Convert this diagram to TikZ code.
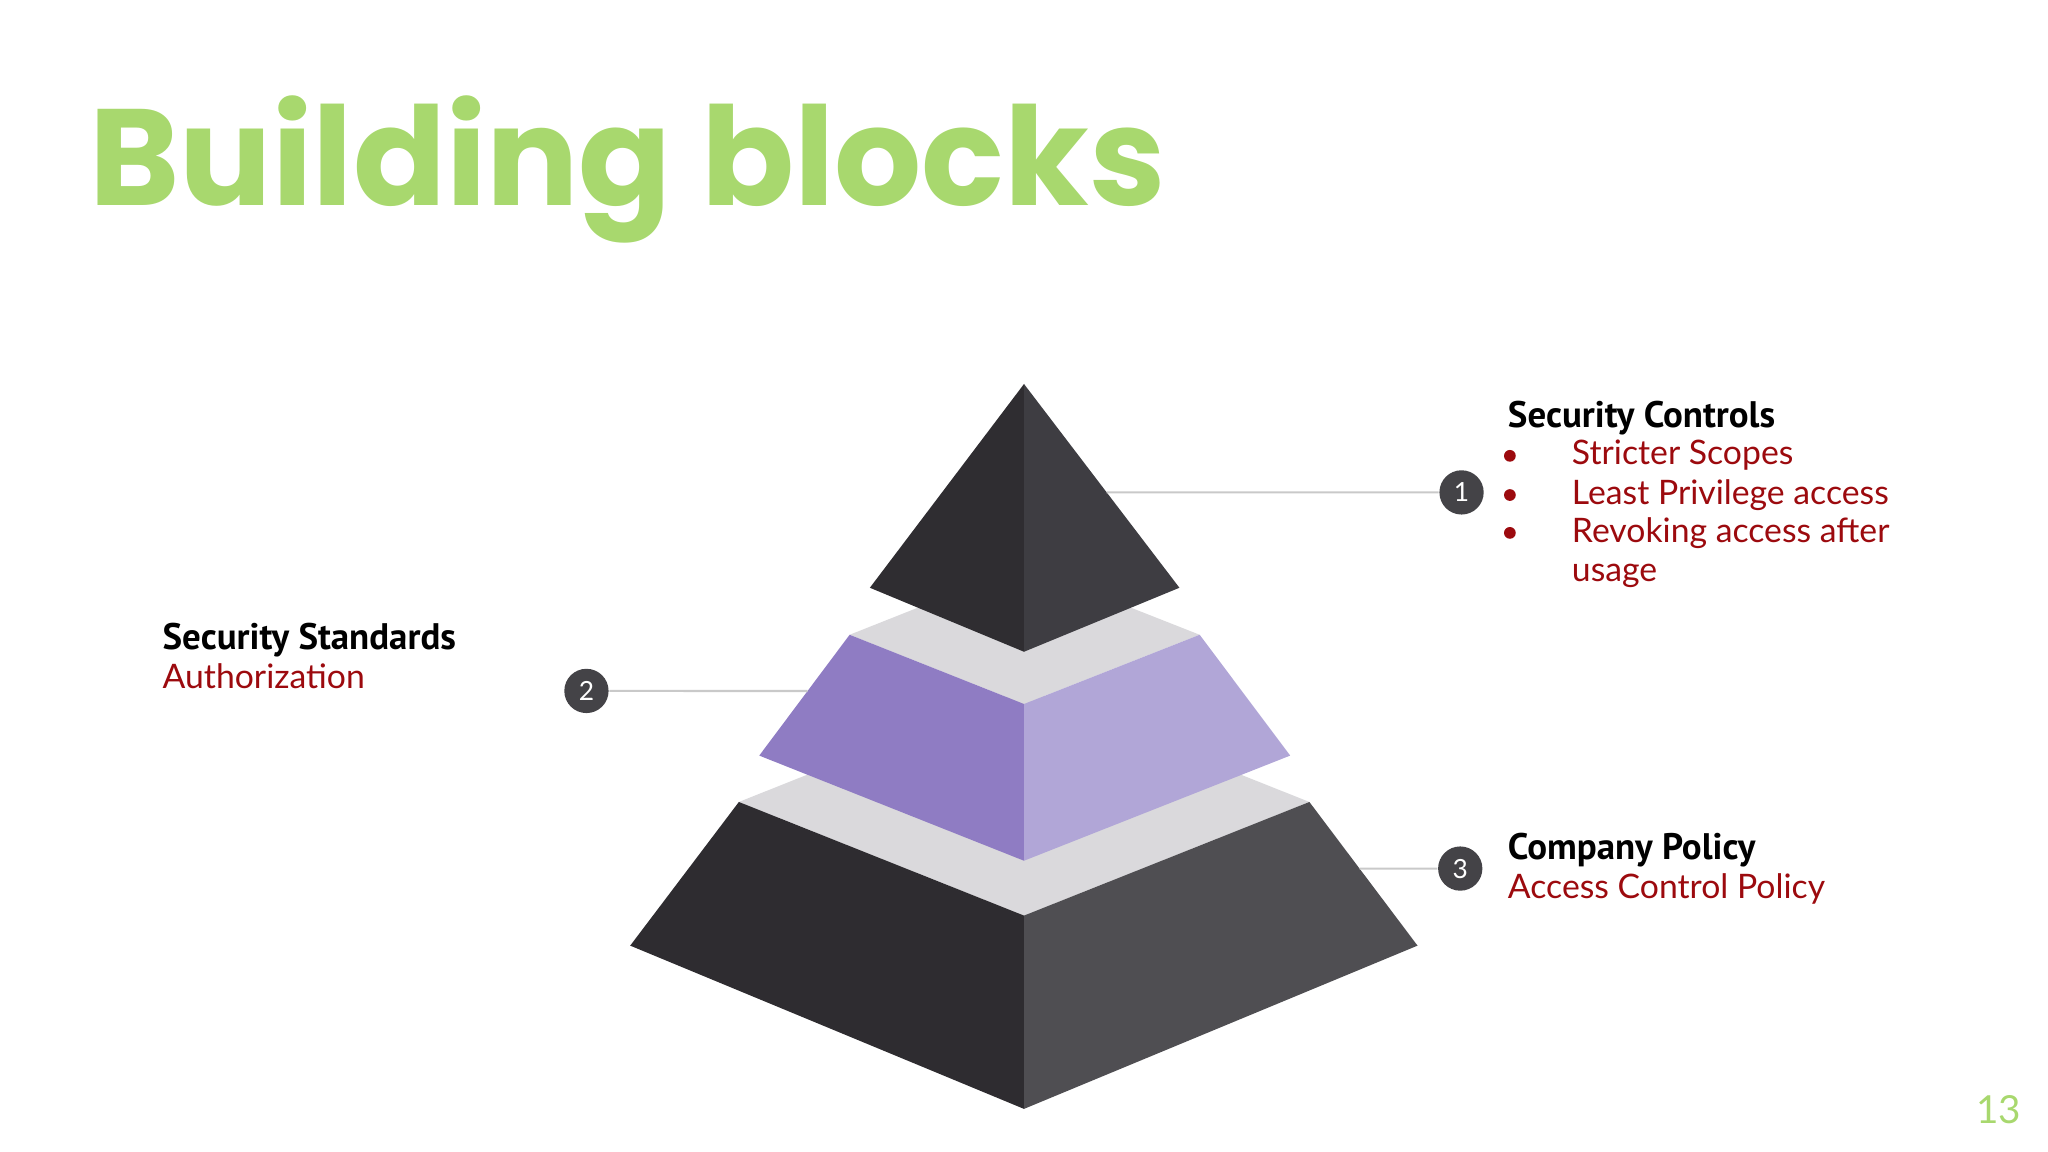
\documentclass[tikz,border=0pt]{standalone}
\usepackage{fontspec}
\setmainfont{Lato}
\newfontfamily\titlefont{Poppins}
\newfontfamily\headfont{PT Sans}
\usetikzlibrary{calc}
\definecolor{titlegreen}{HTML}{A8D86E}
\definecolor{itemred}{HTML}{9C0A0E}
\definecolor{topL}{HTML}{2F2D31}
\definecolor{topR}{HTML}{3E3D42}
\definecolor{midL}{HTML}{8F7CC3}
\definecolor{midR}{HTML}{B1A6D7}
\definecolor{botL}{HTML}{2E2C30}
\definecolor{botR}{HTML}{4F4E52}
\definecolor{band}{HTML}{DAD9DC}
\definecolor{numgray}{HTML}{444347}
\definecolor{linegray}{HTML}{C9C9C9}

\begin{document}
\begin{tikzpicture}[x=0.013061cm, y=-0.013061cm,
  head/.style={anchor=base west, inner sep=0pt, font=\headfont\bfseries\fontsize{10.5}{12}\selectfont},
  item/.style={anchor=base west, inner sep=0pt, text=itemred, font=\fontsize{9.6}{11}\selectfont},
  num/.style={circle, fill=numgray, text=white, minimum size=12.6pt, inner sep=0pt, font=\fontsize{7.5}{8}\selectfont},
  link/.style={draw=linegray, line width=0.6pt},
  dot/.style={fill=itemred}]
\useasboundingbox (0,0) rectangle (1568,882);
\node[anchor=base west, inner sep=0pt, text=titlegreen, font=\titlefont\bfseries\fontsize{39}{43}\selectfont] (title) at (68,157) {Building blocks};
\node[anchor=base east, inner sep=0pt, text=titlegreen, font=\fontsize{11}{12}\selectfont] (page) at (1548,860) {13};

\coordinate (apex) at (784,294);
\coordinate (tL) at (666,450); \coordinate (tF) at (784,499); \coordinate (tR) at (903,450);
\coordinate (mL) at (650.5,486); \coordinate (mB) at (784,433); \coordinate (mR) at (918.5,486); \coordinate (mF) at (784,539);
\coordinate (mLb) at (581.3,578.5); \coordinate (mFb) at (784,659); \coordinate (mRb) at (987.8,578.5);
\coordinate (bL) at (565.7,614); \coordinate (bB) at (784,527); \coordinate (bR) at (1002.5,614); \coordinate (bF) at (784,701);
\coordinate (bLb) at (482.5,724); \coordinate (bFb) at (784,849); \coordinate (bRb) at (1085.3,724);

\fill[band] (bL) -- (bB) -- (bR) -- (bF) -- cycle;
\fill[botL] (bL) -- (bF) -- (bFb) -- (bLb) -- cycle;
\fill[botR] (bF) -- (bR) -- (bRb) -- (bFb) -- cycle;
\fill[band] (mL) -- (mB) -- (mR) -- (mF) -- cycle;
\fill[midL] (mL) -- (mF) -- (mFb) -- (mLb) -- cycle;
\fill[midR] (mF) -- (mR) -- (mRb) -- (mFb) -- cycle;
\fill[topL] (apex) -- (tF) -- (tL) -- cycle;
\fill[topR] (apex) -- (tR) -- (tF) -- cycle;

\coordinate (c1) at ($(apex)!0.532!(tR)$);
\coordinate (c2) at ($(mL)!0.465!(mLb)$);
\coordinate (c3) at ($(bR)!0.464!(bRb)$);
\node[num] (n1) at (1119,377) {1};
\node[num] (n2) at (449,529) {2};
\node[num] (n3) at (1118,665) {3};
\draw[link] (c1) -- (n1);
\draw[link] (c2) -- (n2);
\draw[link] (c3) -- (n3);

\node[head] (h1) at (1154,327) {Security Controls};
\node[item] (i1) at (1203,356) {Stricter Scopes};
\node[item] (i2) at (1203,386) {Least Privilege access};
\node[item] (i3) at (1203,415) {Revoking access after};
\node[item] (i4) at (1203,445) {usage};
\fill[dot] (1156,349) circle (4.5);
\fill[dot] (1156,379) circle (4.5);
\fill[dot] (1156,408) circle (4.5);

\node[head] (h2) at (124,497) {Security Standards};
\node[item] (i5) at (124,527) {Authorization};

\node[head] (h3) at (1154,658) {Company Policy};
\node[item] (i6) at (1154,688) {Access Control Policy};
\end{tikzpicture}
\end{document}
